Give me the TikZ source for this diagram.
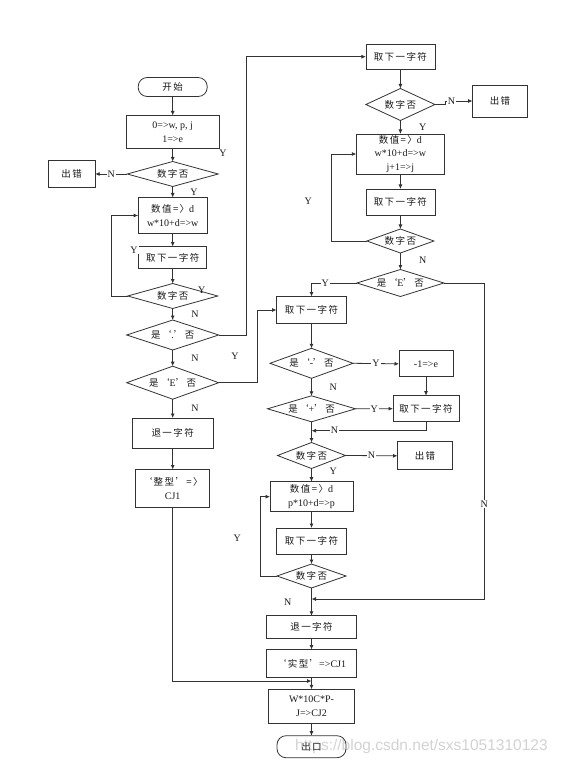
\documentclass[tikz,border=0pt]{standalone}
\usepackage{fontspec}
\setmainfont{Liberation Serif}
\newfontfamily\cjk{Noto Sans CJK SC}[LetterSpace=15]
\newfontfamily\wmfont{Liberation Sans}
\usetikzlibrary{shapes.geometric,arrows.meta}
\definecolor{lc}{HTML}{333333}
\definecolor{tc}{HTML}{1A1A1A}
\newcommand{\fs}{\fontsize{10}{13.5}\selectfont}
\newcommand{\zh}[1]{{\cjk\fontsize{9.5}{13.5}\selectfont #1}}
\tikzset{
  ln/.style={draw=lc, line width=0.8pt},
  arr/.style={ln, -{Latex[length=4.5pt,width=4pt]}},
  bx/.style={draw=lc, line width=0.8pt, rectangle, inner sep=0pt, outer sep=0pt, align=center, font=\fs, text=tc},
  bxs/.style 2 args={bx, minimum width=#1, minimum height=#2},
  tm/.style 2 args={bx, minimum width=#1, minimum height=#2, rounded corners=9pt},
  dmd/.style n args={3}{draw=lc, line width=0.8pt, diamond, inner sep=0pt, outer sep=0pt, align=center, font=\fs, text=tc, minimum width=#1, minimum height=#2, aspect=#3},
  lb/.style={font=\fs, text=tc, inner sep=1pt, fill=white},
  lbn/.style={font=\fs, text=tc, inner sep=0pt},
}
\begin{document}
\begin{tikzpicture}[x=1pt,y=-1pt]
\useasboundingbox[fill=white] (0,0) rectangle (562,767);

% ---------- left column ----------
\node[tm={69}{19}] (start) at (172.7,87) {\zh{开始}};
\node[bxs={93}{33}] (init) at (172.7,132) {0=>w, p, j\\1=>e};
\node[dmd={91}{25}{3.64}] (d1) at (172.7,174) {\zh{数字否}};
\node[bxs={47}{27}] (err1) at (71.7,174) {\zh{出错}};
\node[bxs={69}{36}] (val1) at (172.7,215.5) {\zh{数值=〉}d\\w*10+d=>w};
\node[bxs={68}{22}] (next1) at (172.7,257.5) {\zh{取下一字符}};
\node[dmd={90}{25}{3.6}] (d2) at (172.7,296) {\zh{数字否}};
\node[dmd={92}{30}{3.07}] (d3) at (172.7,335) {\zh{是‘}.\zh{’否}};
\node[dmd={92}{33}{2.79}] (d4) at (172.7,382.7) {\zh{是‘}E\zh{’否}};
\node[bxs={81}{30}] (back1) at (172.7,433) {\zh{退一字符}};
\node[bxs={74}{38}] (int) at (172.7,488.5) {\zh{‘整型’=〉}\\CJ1};

% ---------- right top column ----------
\node[bxs={69}{25}] (nextA) at (400.4,56.7) {\zh{取下一字符}};
\node[dmd={69}{32}{2.16}] (dA) at (400.4,104.5) {\zh{数字否}};
\node[bxs={55}{32}] (errA) at (500,101) {\zh{出错}};
\node[bxs={88}{40}] (valA) at (400.4,154) {\zh{数值=〉}d\\w*10+d=>w\\j+1=>j};
\node[bxs={69}{26}] (nextB) at (400.4,202) {\zh{取下一字符}};
\node[dmd={67}{24}{2.8}] (dB) at (400.4,241) {\zh{数字否}};
\node[dmd={87}{27}{3.2}] (dE) at (400.4,283) {\zh{是‘}E\zh{’否}};

% ---------- middle column ----------
\node[bxs={70}{27}] (nextC) at (311.5,310) {\zh{取下一字符}};
\node[dmd={83}{30}{2.77}] (dMinus) at (311.5,363.3) {\zh{是‘}-\zh{’否}};
\node[bxs={54}{26}] (neg) at (426,363.8) {-1=>e};
\node[dmd={88}{26}{3.4}] (dPlus) at (311.5,408.8) {\zh{是‘}+\zh{’否}};
\node[bxs={66}{26}] (nextD) at (426,408.7) {\zh{取下一字符}};
\node[dmd={68}{26}{2.6}] (dC) at (311.5,455.5) {\zh{数字否}};
\node[bxs={55}{28}] (errC) at (425,455.8) {\zh{出错}};
\node[bxs={83}{30}] (valC) at (311.5,496.7) {\zh{数值=〉}d\\p*10+d=>p};
\node[bxs={70}{26}] (nextE) at (311.5,541) {\zh{取下一字符}};
\node[dmd={69}{24}{2.9}] (dD) at (311.5,576) {\zh{数字否}};
\node[bxs={90}{23}] (back2) at (311.5,627.3) {\zh{退一字符}};
\node[bxs={90}{28}] (real) at (311.5,663.5) {\zh{‘实型’}=>CJ1};
\node[bxs={86}{34}] (cj2) at (311.5,706.3) {W*10C*P-\\J=>CJ2};
\node[tm={69}{22}] (end) at (311.5,746.7) {\zh{出口}};

\coordinate (j1) at (311.5,681);
\coordinate (j2) at (311.5,599);
\coordinate (j3) at (311.5,430.7);

% ---------- connectors: left ----------
\draw[arr] (start) -- (init);
\draw[arr] (init) -- (d1);
\draw[arr] (d1.west) -- node[lb]{N} (err1.east);
\draw[arr] (d1) -- (val1);
\draw[arr] (val1) -- (next1);
\draw[arr] (next1) -- (d2);
\draw[arr] (d2.west) -- (111.7,296) |- (val1.west);
\draw[arr] (d2) -- (d3);
\draw[arr] (d3.east) -- (246.7,335) |- (nextA.west);
\draw[arr] (d3) -- (d4);
\draw[arr] (d4.east) -- (257.7,382.7) |- (nextC.west);
\draw[arr] (d4) -- (back1);
\draw[arr] (back1) -- (int);
\draw[arr] (int) |- (j1);

% ---------- connectors: right ----------
\draw[arr] (nextA) -- (dA);
\draw[arr] (dA.east) -- ++(10,0) |- node[lb,pos=0.62]{N} (errA.west);
\draw[arr] (dA) -- (valA);
\draw[arr] (valA) -- (nextB);
\draw[arr] (nextB) -- (dB);
\draw[arr] (dB.west) -- (331.7,241) |- (valA.west);
\draw[arr] (dB) -- (dE);
\draw[arr] (dE.west) -| node[lb,pos=0.35]{Y} (nextC.north);
\draw[arr] (dE.east) -- (484.3,283) -- node[lb,pos=0.7]{N} (484.3,599) -- (j2);

% ---------- connectors: middle ----------
\draw[arr] (nextC) -- (dMinus);
\draw[arr] (dMinus.east) -- node[lb]{Y} (neg.west);
\draw[arr] (neg) -- (nextD);
\draw[arr] (dMinus) -- (dPlus);
\draw[arr] (dPlus.east) -- node[lb]{Y} (nextD.west);
\draw[arr] (nextD.south) |- node[lb,pos=0.9]{N} (j3);
\draw[arr] (dPlus) -- (dC);
\draw[arr] (dC.east) -- node[lb]{N} (errC.west);
\draw[arr] (dC) -- (valC);
\draw[arr] (valC) -- (nextE);
\draw[arr] (nextE) -- (dD);
\draw[arr] (dD.west) -- (260.7,576) |- (valC.west);
\draw[arr] (dD) -- (back2);
\draw[arr] (back2) -- (real);
\draw[arr] (real) -- (cj2);
\draw[arr] (cj2) -- (end);

% ---------- free labels ----------
\node[lbn] (y1) at (223,153) {Y};
\node[lbn] (y2) at (194,192) {Y};
\node[lb] (y3) at (134,250) {Y};
\node[lbn] (y4) at (201.7,290) {Y};
\node[lbn] (n1) at (195,314) {N};
\node[lbn] (n2) at (195,358) {N};
\node[lbn] (y5) at (235,356) {Y};
\node[lbn] (n3) at (195,408) {N};
\node[lbn] (y6) at (422.7,127.3) {Y};
\node[lbn] (y7) at (308.3,201.7) {Y};
\node[lbn] (n4) at (422.7,260.7) {N};
\node[lbn] (n5) at (333.3,387.3) {N};
\node[lbn] (y8) at (333.3,471.7) {Y};
\node[lbn] (y9) at (237.3,538.3) {Y};
\node[lbn] (n6) at (287.7,602.3) {N};

% ---------- watermark ----------
\node[font=\wmfont\fontsize{15.5}{16}\selectfont, text=gray, opacity=0.35, inner sep=0pt, anchor=west] (wm) at (295,746) {https://blog.csdn.net/sxs1051310123};
\end{tikzpicture}
\end{document}
